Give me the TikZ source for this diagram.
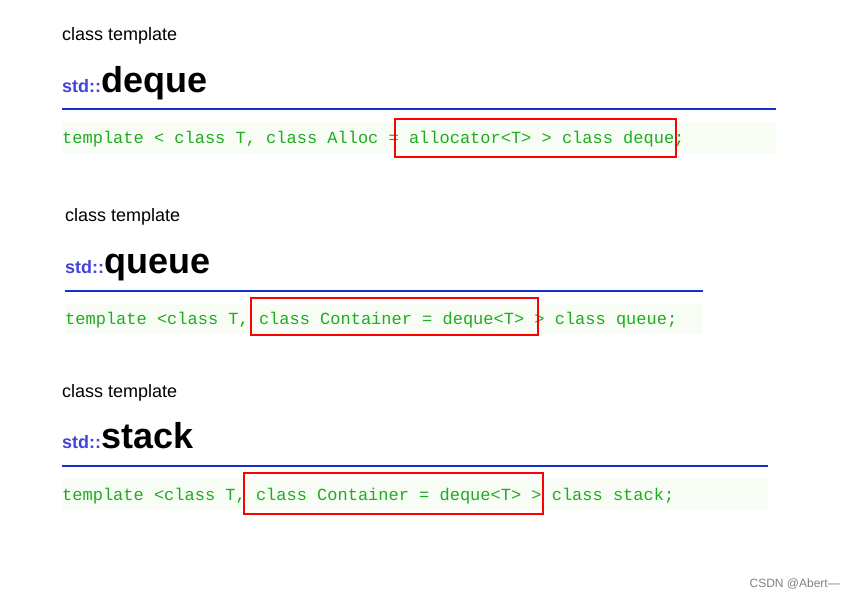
\documentclass[tikz,border=0pt]{standalone}
\usepackage{fontspec}
\setmainfont{Liberation Sans}
\setmonofont{Liberation Mono}
\definecolor{codegreen}{HTML}{22AA22}
\definecolor{codebg}{HTML}{F7FDF5}
\definecolor{rule}{HTML}{1133CC}
\definecolor{stdc}{HTML}{4444DD}
\begin{document}
\begin{tikzpicture}[x=1pt,y=-1pt,
  lbl/.style={anchor=base west,inner sep=0pt,font=\fontsize{18}{20}\selectfont},
  ttl/.style={anchor=base west,inner sep=0pt},
  code/.style={anchor=base west,inner sep=0pt,text=codegreen,font=\ttfamily\fontsize{17}{19}\selectfont},
  redbox/.style={draw=red,line width=2pt},
  bar/.style={draw=rule,line width=1.5pt}]
\useasboundingbox (0,0) rectangle (853,598);
% block 1
\node[lbl] (t1) at (62,40) {class template};
\node[ttl] (h1) at (62,92) {\textcolor{stdc}{\bfseries\fontsize{18}{20}\selectfont std::}\bfseries\fontsize{36}{40}\selectfont deque};
\fill[codebg] (62,122) rectangle (776,153);
\draw[bar] (62,109) -- (776,109);
\node[code] (c1) at (62,143) {template < class T, class Alloc = allocator<T> > class deque;};
\draw[redbox] (395,119) rectangle (676,157);
% block 2
\node[lbl] (t2) at (65,221) {class template};
\node[ttl] (h2) at (65,273) {\textcolor{stdc}{\bfseries\fontsize{18}{20}\selectfont std::}\bfseries\fontsize{36}{40}\selectfont queue};
\fill[codebg] (65,304) rectangle (703,334);
\draw[bar] (65,291) -- (703,291);
\node[code] (c2) at (65,324) {template <class T, class Container = deque<T> > class queue;};
\draw[redbox] (251,298) rectangle (538,335);
% block 3
\node[lbl] (t3) at (62,397) {class template};
\node[ttl] (h3) at (62,448) {\textcolor{stdc}{\bfseries\fontsize{18}{20}\selectfont std::}\bfseries\fontsize{36}{40}\selectfont stack};
\fill[codebg] (62,479) rectangle (768,510);
\draw[bar] (62,466) -- (768,466);
\node[code] (c3) at (62,500) {template <class T, class Container = deque<T> > class stack;};
\draw[redbox] (244,473) rectangle (543,514);
\node[anchor=base east,inner sep=0pt,text=gray,font=\fontsize{12}{14}\selectfont] (wm) at (840,587) {CSDN @Abert—};
\end{tikzpicture}
\end{document}
